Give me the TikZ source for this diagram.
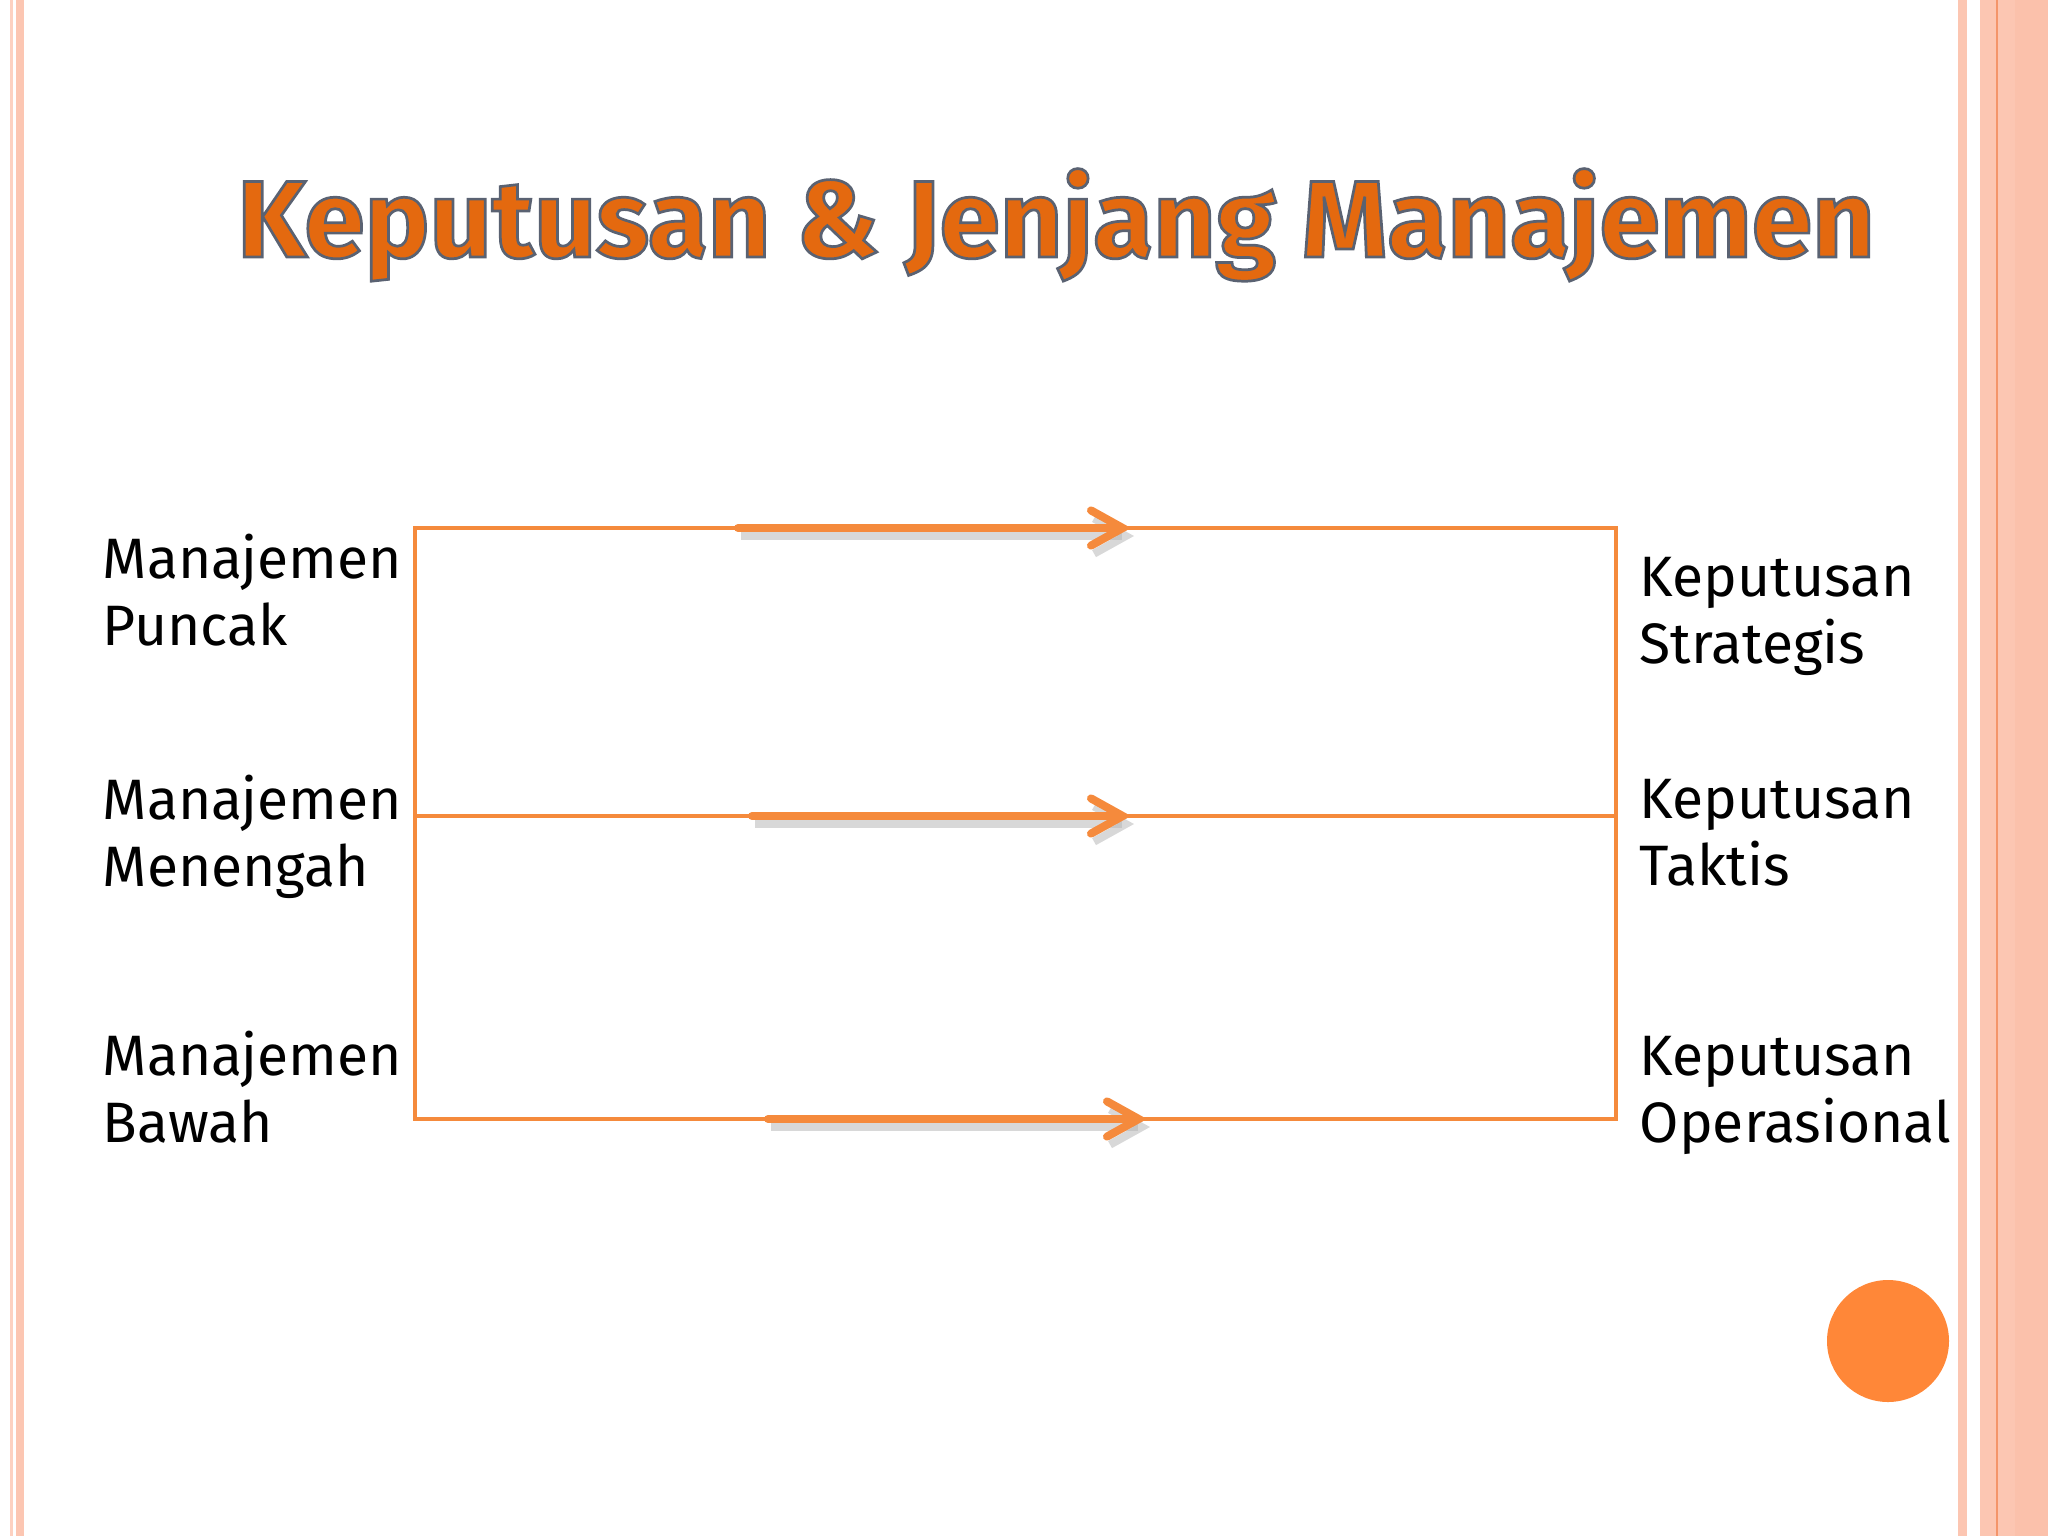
\documentclass[tikz,border=0pt]{standalone}
\usepackage{fontspec}
\setmainfont{Fira Sans}
\newfontfamily\titleface[FakeBold=2.5]{Fira Sans Bold}
\usetikzlibrary{arrows.meta}
\definecolor{lineorange}{HTML}{F58A3C}
\definecolor{titleorange}{HTML}{E4690F}
\definecolor{titlegrey}{HTML}{5A6272}
\definecolor{stripepink}{HTML}{FCC6B2}
\definecolor{stripedark}{HTML}{F4956A}
\definecolor{dotorange}{HTML}{FF8738}
\newcommand{\boxleft}{415}
\newcommand{\boxright}{1616}
\newcommand{\boxtop}{528}
\newcommand{\boxmid}{816}
\newcommand{\boxbot}{1119}
\newcommand{\labelfont}{\fontsize{16.2}{19}\selectfont}
\newcommand{\titlefont}{\fontsize{31}{34}\titleface}
% orange fill, grey outline (xdvipdfmx fill/stroke colours)
\newcommand{\outlined}[1]{\special{pdf:bcolor [0.894 0.412 0.059] [0.353 0.384 0.447]}#1\special{pdf:ecolor}}

\begin{document}
\begin{tikzpicture}[x=0.01cm, y=-0.01cm, >=Straight Barb,
    boxline/.style={draw=lineorange, line width=1.15pt},
    flowarrow/.style={draw=lineorange, line width=2.3pt, line cap=round,
        -{Straight Barb[length=9pt, width=10pt, line cap=round]}},
    flowshadow/.style={draw=black!30, opacity=0.5, line width=2.3pt,
        -{Straight Barb[length=9pt, width=10pt]}},
    leveltext/.style={anchor=base west, align=left, inner sep=0pt, font=\labelfont},
    titletext/.style={anchor=base, inner sep=0pt, font=\titlefont}]
        \useasboundingbox (0,0) rectangle (2048,1536);

        % side stripes
        \fill[stripepink!80!white] (10,0) rectangle (13,1536);
        \fill[stripepink] (16,0) rectangle (24,1536);
        \fill[stripepink] (1958,0) rectangle (1967,1536);
        \fill[stripepink] (1980,0) rectangle (2048,1536);
        \fill[stripepink!90!stripedark] (2015,0) rectangle (2048,1536);
        \fill[stripedark] (1996,0) rectangle (1998,1536);

        % title
        \node[titletext] (title) at (1056,257)
            {\outlined{Keputusan \& Jenjang Manajemen}};

        \coordinate (O) at (\boxleft, \boxtop);
        \coordinate (A) at (\boxright, \boxtop);
        \coordinate (B) at (\boxleft, \boxmid);
        \coordinate (C) at (\boxright, \boxmid);
        \coordinate (D) at (\boxleft, \boxbot);
        \coordinate (E) at (\boxright, \boxbot);

        % box edges
        \draw[boxline] (O) -- (A) -- (E) -- (D) -- cycle;
        \draw[boxline] (B) -- (C);

        \coordinate (topS) at (738, \boxtop);
        \coordinate (topT) at (1131, \boxtop);
        \coordinate (midS) at (752, \boxmid);
        \coordinate (midT) at (1131, \boxmid);
        \coordinate (botS) at (768, \boxbot);
        \coordinate (botT) at (1147, \boxbot);

        % arrows
        \foreach \s/\t in {topS/topT, midS/midT, botS/botT} {
            \draw[flowshadow] ([shift={(3,8)}]\s) -- ([shift={(3,8)}]\t);
            \draw[flowarrow] (\s) -- (\t);
        }

        % levels
        \node[leveltext] (puncak) at (102,645) {Manajemen\\Puncak};
        \node[leveltext] (menengah) at (102,886) {Manajemen\\Menengah};
        \node[leveltext] (bawah) at (102,1142) {Manajemen\\Bawah};

        % decisions
        \node[leveltext] (strategis) at (1639,663) {Keputusan\\Strategis};
        \node[leveltext] (taktis) at (1639,885) {Keputusan\\Taktis};
        \node[leveltext] (operasional) at (1639,1142) {Keputusan\\Operasional};

        \fill[dotorange] (1888,1341) circle (61);
    \end{tikzpicture}
\end{document}
